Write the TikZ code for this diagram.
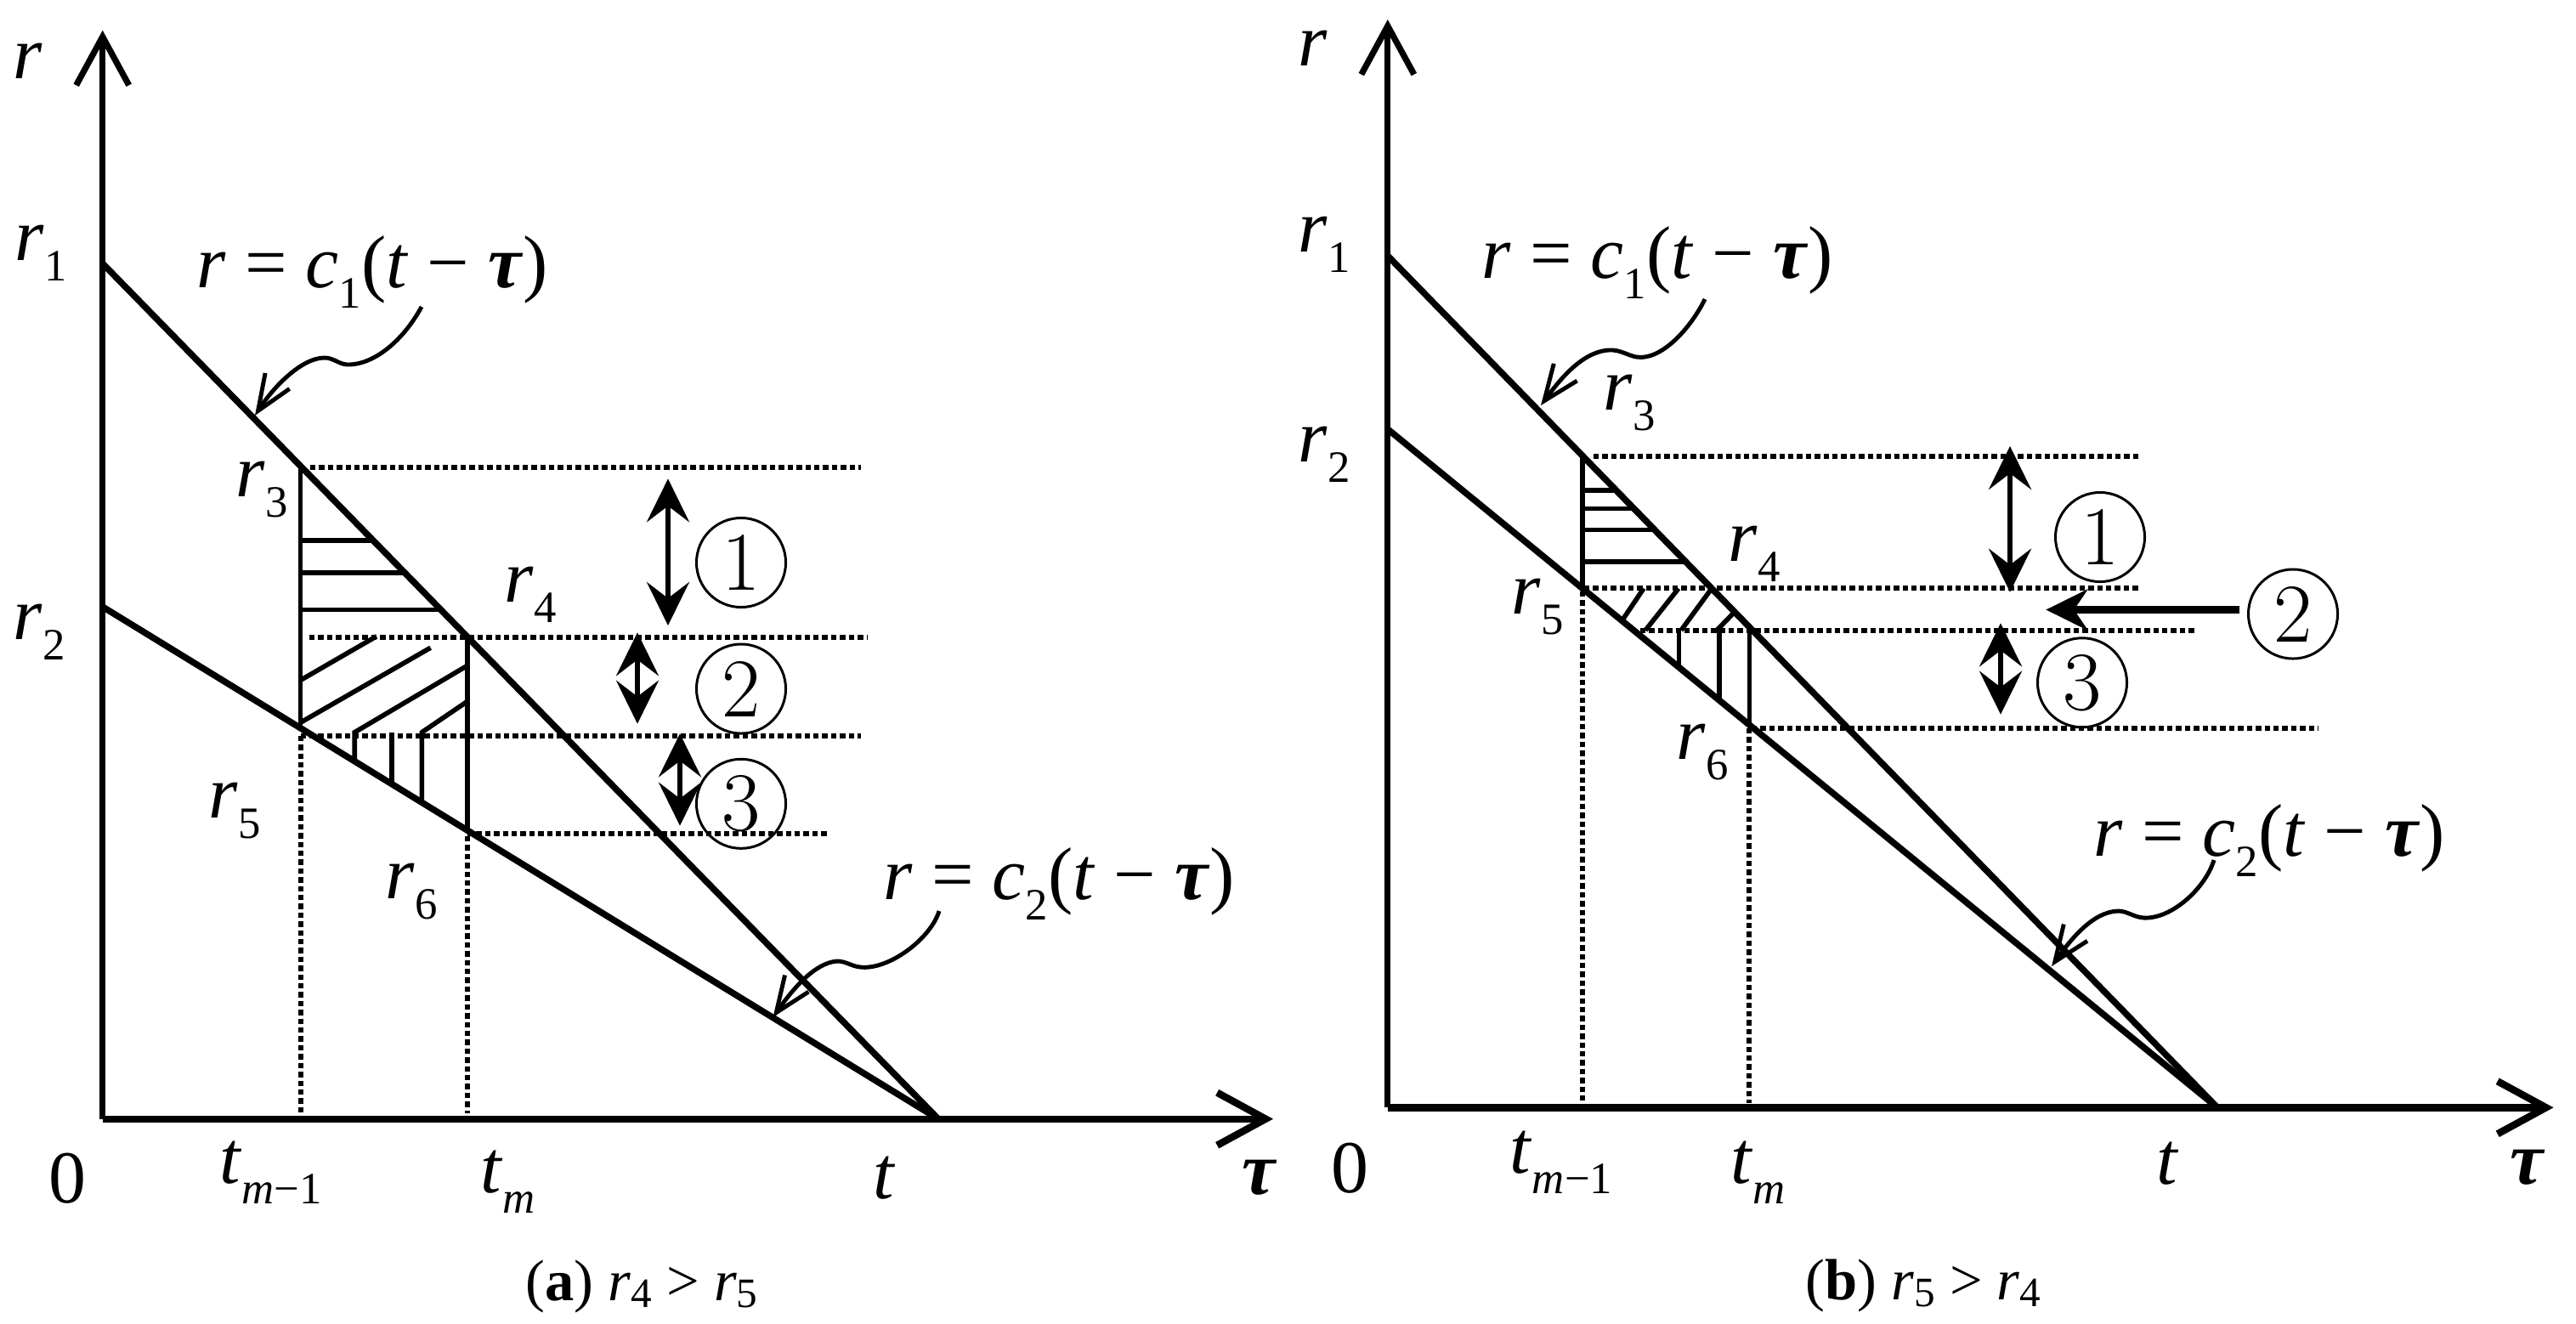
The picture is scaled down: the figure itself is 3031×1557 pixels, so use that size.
\documentclass[tikz,border=0pt]{standalone}
\usepackage{fontspec}
\newfontfamily\tnr{Liberation Serif}
\usetikzlibrary{arrows.meta}
\newcommand{\sbs}[1]{\raisebox{-0.28em}{\fontsize{15}{16}\selectfont #1}}
\newcommand{\csub}[1]{\raisebox{-0.12em}{\fontsize{14}{16}\selectfont #1}}
\newcommand{\ttau}{\textbf{\textit{τ}}}
\begin{document}
\begin{tikzpicture}[x=0.01cm,y=-0.01cm,
  lbl/.style={font=\tnr\fontsize{25}{28}\selectfont, inner sep=0pt},
  captxt/.style={font=\tnr\fontsize{19.5}{22}\selectfont, inner sep=0pt},
  axisv/.style={line width=2.05pt, -{Straight Barb[length=5.7mm,width=6.2mm]}},
  axish/.style={line width=2.4pt, -{Straight Barb[length=5.7mm,width=6.2mm]}},
  curve/.style={line width=2.15pt},
  hatch/.style={line width=1.6pt},
  dots/.style={line width=1.7pt, dash pattern=on 0.064cm off 0.04cm},
  dbl/.style={line width=1.6pt, {Stealth[length=5.1mm,width=5mm,inset=1.9mm]}-{Stealth[length=5.1mm,width=5mm,inset=1.9mm]}},
  single/.style={line width=2.4pt, -{Stealth[length=4.9mm,width=4.8mm,inset=1.6mm]}},
  num/.style={circle, draw, line width=0.85pt, minimum size=1.05cm, inner sep=0pt, font=\fontsize{28}{30}\selectfont},
  wavy/.style={line width=1.4pt, -{Straight Barb[length=4.2mm,width=3.4mm]}},
]
\useasboundingbox (0,0) rectangle (3031,1557);

% ================= Panel (a) =================
\coordinate (Oa) at (120.7,1316.7);
\coordinate (Ya) at (120.7,35.7);
\coordinate (Xa) at (1498,1316.7);
\coordinate (R1a) at (120.7,310);
\coordinate (R2a) at (120.7,714);
\coordinate (Ta) at (1104,1316.7);
\coordinate (R3a) at (353.6,548.4);
\coordinate (R4a) at (550,749.5);
\coordinate (R5a) at (353.6,856.7);
\coordinate (R6a) at (550,977.1);

\draw[axisv] (Oa) -- (Ya);
\draw[axish] (Oa) -- (Xa);
\draw[curve] (R1a) -- (Ta);
\draw[curve] (R2a) -- (Ta);

% hatching
\draw[hatch] (R3a) -- (R5a);
\draw[hatch] (R4a) -- (R6a);
\draw[hatch] (353.6,635.9) -- (439.0,635.9);
\draw[hatch] (353.6,674.1) -- (476.3,674.1);
\draw[hatch] (353.6,717.4) -- (518.6,717.4);
\draw[hatch] (353.6,800.4) -- (442.9,748.8);
\draw[hatch] (353.6,850.2) -- (506.6,762.2);
\draw[hatch] (417.3,895.8) -- (417.3,861.7) -- (550,783.2);
\draw[hatch] (496.4,944.3) -- (496.4,861.7) -- (550,825.3);
\draw[hatch] (460.7,922.4) -- (460.7,861.7);

% dotted
\draw[dots] (365,549.5) -- (1013,549.5);
\draw[dots] (364,749.5) -- (1020,749.5);
\draw[dots] (353.6,865.7) -- (1013,865.7);
\draw[dots] (550,980.5) -- (975,980.5);
\draw[dots] (353.6,865.7) -- (353.6,1310);
\draw[dots] (550,984) -- (550,1310);

% arrows and numbers
\draw[dbl] (786,563.3) -- (786,736);
\draw[dbl] (750,744.3) -- (750,851.7);
\draw[dbl] (800,863.3) -- (800,971.7);
\node[num] (n1a) at (872,662) {1};
\node[num] (n2a) at (872,810.5) {2};
\node[num] (n3a) at (872,945.8) {3};

% labels
\node[lbl,anchor=base] (ra) at (33,92) {\textit{r}};
\node[lbl,anchor=base west] (r1la) at (17,306) {\textit{r}\sbs{1}};
\node[lbl,anchor=base west] (r2la) at (15,752) {\textit{r}\sbs{2}};
\node[lbl,anchor=base west] (eq1a) at (231,338) {\textit{r} = \textit{c}\sbs{1}(\textit{t} − \ttau)};
\node[lbl,anchor=base west] (r3la) at (277,584) {\textit{r}\sbs{3}};
\node[lbl,anchor=base west] (r4la) at (593,708) {\textit{r}\sbs{4}};
\node[lbl,anchor=base west] (r5la) at (245,962) {\textit{r}\sbs{5}};
\node[lbl,anchor=base west] (r6la) at (453,1057) {\textit{r}\sbs{6}};
\node[lbl,anchor=base west] (eq2a) at (1039,1058) {\textit{r} = \textit{c}\sbs{2}(\textit{t} − \ttau)};
\node[lbl,anchor=base] (zeroa) at (79,1415) {0};
\node[lbl,anchor=base west] (tm1a) at (258,1392) {\textit{t}\sbs{\textit{m}−1}};
\node[lbl,anchor=base west] (tma) at (565,1403) {\textit{t}\sbs{\textit{m}}};
\node[lbl,anchor=base] (ta) at (1041,1410) {\textit{t}};
\node[lbl,anchor=base] (taua) at (1482,1405) {\ttau};
\node[captxt,anchor=base] (capa) at (755,1530) {(\textbf{a}) \textit{r}\csub{4} > \textit{r}\csub{5}};

% wavy pointers
\coordinate (w1s) at (496,361);
\coordinate (w1t) at (300,489);
\draw[wavy] (w1s) .. controls (475,400) and (440,430) .. (408,429) .. controls (398,428) and (392,421) .. (382,421) .. controls (355,421) and (322,455) .. (w1t);
\coordinate (w2s) at (1105,1072);
\coordinate (w2t) at (909.5,1197);
\draw[wavy] (w2s) .. controls (1095,1105) and (1045,1142) .. (1012,1138) .. controls (1002,1137) and (995,1131) .. (985,1131) .. controls (958,1133) and (932,1165) .. (w2t);

% ================= Panel (b) =================
\coordinate (Ob) at (1632.8,1303.3);
\coordinate (Yb) at (1632.8,23);
\coordinate (Xb) at (3004.5,1303.3);
\coordinate (R1b) at (1632.8,301);
\coordinate (R2b) at (1632.8,505);
\coordinate (Tb) at (2609,1303.3);
\coordinate (R3b) at (1862,536.3);
\coordinate (R4b) at (2058.3,737.9);
\coordinate (R5b) at (1862,692.4);
\coordinate (R6b) at (2058.3,853);

\draw[axisv] (Ob) -- (Yb);
\draw[axish] (Ob) -- (Xb);
\draw[curve] (R1b) -- (Tb);
\draw[curve] (R2b) -- (Tb);

% hatching
\draw[hatch] (R3b) -- (R5b);
\draw[hatch] (R4b) -- (R6b);
\draw[hatch] (1862,577.3) -- (1901.9,577.3);
\draw[hatch] (1862,598.3) -- (1922.4,598.3);
\draw[hatch] (1862,623.3) -- (1946.7,623.3);
\draw[hatch] (1862,661) -- (1983.4,661);
\draw[hatch] (1908.4,730.4) -- (1934,692.4);
\draw[hatch] (1936,741.7) -- (1975,692.4);
\draw[hatch] (1978,741.7) -- (2014,692.4);
\draw[hatch] (2020,741.7) -- (2041,720);
\draw[hatch] (1975.4,741.7) -- (1975.4,785.2);
\draw[hatch] (2023.2,741.7) -- (2023.2,824.3);

% dotted
\draw[dots] (1875,537) -- (2520,537);
\draw[dots] (1864,692) -- (2517,692);
\draw[dots] (1930,741.7) -- (2582,741.7);
\draw[dots] (2061,856.7) -- (2728,856.7);
\draw[dots] (1862,696) -- (1862,1298);
\draw[dots] (2058.3,857) -- (2058.3,1298);

% arrows and numbers
\draw[dbl] (2365,525) -- (2365,696.7);
\draw[dbl] (2354,733.3) -- (2354,840.7);
\node[num] (n1b) at (2471,632) {1};
\node[num] (n2b) at (2698,722.5) {2};
\node[num] (n3b) at (2450,803.3) {3};
\coordinate (a2s) at (2635,717.5);
\coordinate (a2t) at (2407.3,717.5);
\draw[single] (a2s) -- (a2t);

% labels
\node[lbl,anchor=base] (rb) at (1545,77) {\textit{r}};
\node[lbl,anchor=base west] (r1lb) at (1527,296) {\textit{r}\sbs{1}};
\node[lbl,anchor=base west] (r2lb) at (1527,543) {\textit{r}\sbs{2}};
\node[lbl,anchor=base west] (eq1b) at (1743,327) {\textit{r} = \textit{c}\sbs{1}(\textit{t} − \ttau)};
\node[lbl,anchor=base west] (r3lb) at (1886,482) {\textit{r}\sbs{3}};
\node[lbl,anchor=base west] (r4lb) at (2033,660) {\textit{r}\sbs{4}};
\node[lbl,anchor=base west] (r5lb) at (1778,722) {\textit{r}\sbs{5}};
\node[lbl,anchor=base west] (r6lb) at (1972,893) {\textit{r}\sbs{6}};
\node[lbl,anchor=base west] (eq2b) at (2463,1007) {\textit{r} = \textit{c}\sbs{2}(\textit{t} − \ttau)};
\node[lbl,anchor=base] (zerob) at (1588,1403) {0};
\node[lbl,anchor=base west] (tm1b) at (1776,1380) {\textit{t}\sbs{\textit{m}−1}};
\node[lbl,anchor=base west] (tmb) at (2036,1392) {\textit{t}\sbs{\textit{m}}};
\node[lbl,anchor=base] (tb) at (2551,1393) {\textit{t}};
\node[lbl,anchor=base] (taub) at (2974,1393) {\ttau};
\node[captxt,anchor=base] (capb) at (2263,1529) {(\textbf{b}) \textit{r}\csub{5} > \textit{r}\csub{4}};

% wavy pointers
\coordinate (w3s) at (2006,352);
\coordinate (w3t) at (1813,477);
\draw[wavy] (w3s) .. controls (1990,385) and (1955,425) .. (1925,420) .. controls (1915,418) and (1905,411) .. (1893,412) .. controls (1860,414) and (1833,450) .. (w3t);
\coordinate (w4s) at (2605,1012);
\coordinate (w4t) at (2414,1137);
\draw[wavy] (w4s) .. controls (2595,1045) and (2555,1082) .. (2522,1080) .. controls (2510,1079) and (2503,1072) .. (2492,1072) .. controls (2462,1073) and (2436,1106) .. (w4t);
\end{tikzpicture}
\end{document}
